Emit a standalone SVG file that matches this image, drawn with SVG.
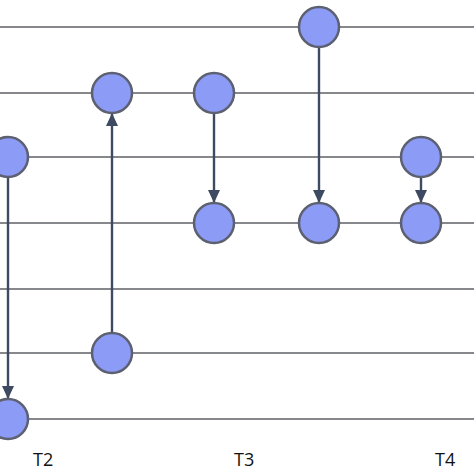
<svg xmlns="http://www.w3.org/2000/svg" width="474" height="474" viewBox="0 0 474 474">
<style>
.wire{stroke:#5f6166;stroke-width:1.6}
.node{fill:#8c9cf6;stroke:#5c6070;stroke-width:2.5}
.arr{stroke:#3e4a62;stroke-width:2.4;fill:none}
.lbl{font-family:"Open Sans","Liberation Sans",sans-serif;font-size:18px;fill:#111}
</style>
<defs>
<marker id="ah" markerWidth="13" markerHeight="13" viewBox="0 0 13 13" refX="12" refY="6.5" orient="auto" markerUnits="userSpaceOnUse">
<path d="M0,0.5 L13,6.5 L0,12.5 z" fill="#3e4a62"/>
</marker>
</defs>
<rect width="474" height="474" fill="#fff"/>
<g id="wires">
<line class="wire" x1="0" y1="27" x2="474" y2="27"/>
<line class="wire" x1="0" y1="93" x2="474" y2="93"/>
<line class="wire" x1="0" y1="157" x2="474" y2="157"/>
<line class="wire" x1="0" y1="223" x2="474" y2="223"/>
<line class="wire" x1="0" y1="289" x2="474" y2="289"/>
<line class="wire" x1="0" y1="353" x2="474" y2="353"/>
<line class="wire" x1="0" y1="419" x2="474" y2="419"/>
</g>
<g id="connectors">
<line class="arr" x1="8" y1="177" x2="8" y2="398" marker-end="url(#ah)"/>
<line class="arr" x1="112" y1="333" x2="112" y2="114" marker-end="url(#ah)"/>
<line class="arr" x1="214" y1="113" x2="214" y2="202" marker-end="url(#ah)"/>
<line class="arr" x1="319" y1="47" x2="319" y2="202" marker-end="url(#ah)"/>
<line class="arr" x1="421" y1="177" x2="421" y2="202" marker-end="url(#ah)"/>
</g>
<g id="n1"><circle class="node" cx="8" cy="157" r="20"/></g>
<g id="n2"><circle class="node" cx="8" cy="419" r="20"/></g>
<g id="n3"><circle class="node" cx="112" cy="93" r="20"/></g>
<g id="n4"><circle class="node" cx="112" cy="353" r="20"/></g>
<g id="n5"><circle class="node" cx="214" cy="93" r="20"/></g>
<g id="n6"><circle class="node" cx="214" cy="223" r="20"/></g>
<g id="n7"><circle class="node" cx="319" cy="27" r="20"/></g>
<g id="n8"><circle class="node" cx="319" cy="223" r="20"/></g>
<g id="n9"><circle class="node" cx="421" cy="157" r="20"/></g>
<g id="n10"><circle class="node" cx="421" cy="223" r="20"/></g>
<g id="labels">
<text class="lbl" x="33" y="466">T2</text>
<text class="lbl" x="234" y="466">T3</text>
<text class="lbl" x="435" y="466">T4</text>
</g>
</svg>
